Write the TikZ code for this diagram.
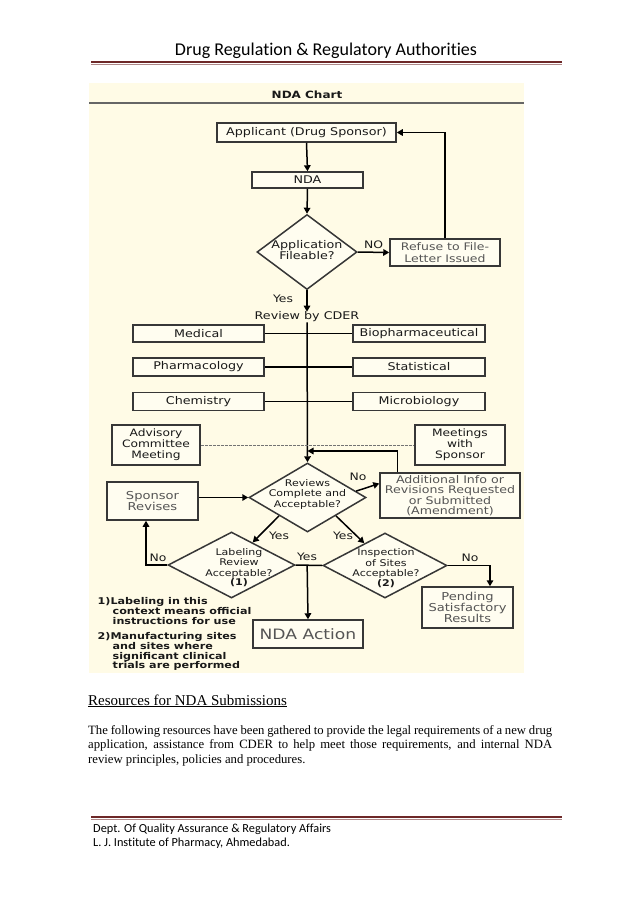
\documentclass[tikz,border=0pt]{standalone}
\usepackage{fontspec}
\setmainfont{DejaVu Sans}
\newfontfamily\chartf[FakeStretch=1.2]{DejaVu Sans}
\newfontfamily\calib[Ligatures=NoCommon]{Carlito}
\newfontfamily\timesf{Liberation Serif}
\usetikzlibrary{shapes.geometric,arrows.meta,calc}
\definecolor{cream}{RGB}{255,251,230}
\definecolor{boxfill}{RGB}{255,253,240}
\definecolor{maroon}{RGB}{110,40,40}
\definecolor{bordc}{RGB}{55,55,55}
\definecolor{txtc}{RGB}{25,25,25}
\definecolor{gtxt}{RGB}{85,85,85}
\tikzset{
  box/.style={draw=bordc, line width=1.5pt, fill=boxfill, inner sep=0pt, align=center, text=txtc, font=\chartf\fontsize{10.6}{11.5}\selectfont},
  gbox/.style={box, text=gtxt, font=\chartf\fontsize{10.9}{11.5}\selectfont},
  dia/.style={diamond, draw=bordc, line width=1.5pt, fill=boxfill, inner sep=0pt},
  dtxt/.style={inner sep=0pt, align=center, text=txtc, font=\chartf\fontsize{9.2}{10.5}\selectfont},
  conn/.style={line width=1.5pt, draw=black},
  arr/.style={conn, -{Triangle[length=6pt,width=6.5pt]}},
  lbl/.style={inner sep=0pt, text=txtc, font=\chartf\fontsize{10.3}{11}\selectfont},
  fnote/.style={inner sep=0pt, anchor=north west, align=left, text=txtc, font=\chartf\bfseries\fontsize{9.3}{9.7}\selectfont},
}
\begin{document}
\begin{tikzpicture}[x=1pt,y=-1pt]
\useasboundingbox (0,0) rectangle (638,903);
\fill[white] (0,0) rectangle (638,903);
% page header
\node[inner sep=0pt, anchor=base, font=\calib\fontsize{18}{20}\selectfont] (hdr) at (326,55.5) {Drug Regulation \& Regulatory Authorities};
\draw[maroon, line width=2.6pt] (91,62) -- (562,62);
\draw[maroon!55, line width=0.8pt] (91,64.8) -- (562,64.8);
% chart background
\fill[cream] (89,83) rectangle (524,673);
\node[inner sep=0pt, text=txtc, font=\chartf\bfseries\fontsize{10}{12}\selectfont] (title) at (307,95) {NDA Chart};
\draw[black!60, line width=1.2pt] (89,103) -- (524,103);

% boxes
\node[box, minimum width=179pt, minimum height=19pt] (app) at (306.5,132.5) {Applicant (Drug Sponsor)};
\node[box, minimum width=111pt, minimum height=16pt] (nda) at (307.5,180) {NDA};
\node[dia, minimum width=100pt, minimum height=75pt, label={[dtxt, font=\chartf\fontsize{10.6}{11}\selectfont, yshift=1.5pt]center:Application\\Fileable?}] (fil) at (307,252) {};
\node[gbox, minimum width=110pt, minimum height=27pt, font=\chartf\fontsize{10.4}{11.5}\selectfont] (ref) at (445,252.5) {Refuse to File-\\Letter Issued};
\node[lbl, font=\chartf\fontsize{10.6}{11}\selectfont] (cder) at (307,317) {Review by CDER};

\node[box, minimum width=131pt, minimum height=17pt] (med) at (198.5,333.5) {Medical};
\node[box, minimum width=132pt, minimum height=17pt] (bio) at (419,333.5) {Biopharmaceutical};
\node[box, minimum width=131pt, minimum height=18pt] (pha) at (198.5,367) {Pharmacology};
\node[box, minimum width=132pt, minimum height=18pt] (sta) at (419,367) {Statistical};
\node[box, minimum width=131pt, minimum height=18pt] (che) at (198.5,401.5) {Chemistry};
\node[box, minimum width=132pt, minimum height=18pt] (mic) at (419,401.5) {Microbiology};

\node[box, minimum width=88pt, minimum height=40pt, font=\chartf\fontsize{10.2}{11}\selectfont] (adv) at (156,445) {Advisory\\Committee\\Meeting};
\node[box, minimum width=90pt, minimum height=40pt, font=\chartf\fontsize{10.2}{11}\selectfont] (meet) at (460,445) {Meetings\\with\\Sponsor};

\node[dia, minimum width=117pt, minimum height=69pt, label={[dtxt, yshift=3.5pt]center:Reviews\\Complete and\\Acceptable?}] (rev) at (307.5,497.5) {};
\node[gbox, minimum width=91pt, minimum height=38pt] (spon) at (152.5,501) {Sponsor\\Revises};
\node[gbox, minimum width=140pt, minimum height=45pt, font=\chartf\fontsize{10.5}{9.8}\selectfont] (add) at (450,495.5) {Additional Info or\\Revisions Requested\\or Submitted\\(Amendment)};

\node[dia, minimum width=127pt, minimum height=66pt, label={[dtxt, xshift=7.5pt, yshift=-2.5pt]center:Labeling\\Review\\Acceptable?\\[-1pt]\textbf{(1)}}] (lab) at (231.5,565) {};
\node[dia, minimum width=124pt, minimum height=65pt, label={[dtxt, xshift=1pt, yshift=-2.5pt]center:Inspection\\of Sites\\Acceptable?\\[-1pt]\textbf{(2)}}] (ins) at (385,565.5) {};

\node[gbox, minimum width=110pt, minimum height=28pt, font=\chartf\fontsize{14.3}{16}\selectfont] (act) at (308,634) {NDA Action};
\node[gbox, minimum width=91pt, minimum height=41pt, font=\chartf\fontsize{10.9}{11.3}\selectfont] (pend) at (467.5,607.5) {Pending\\Satisfactory\\Results};

% footnotes
\node[fnote] (fn1) at (97.5,597.5) {1)Labeling in this\\\hspace*{15pt}context means official\\\hspace*{15pt}instructions for use};
\node[fnote] (fn2) at (97.5,632.5) {2)Manufacturing sites\\\hspace*{15pt}and sites where\\\hspace*{15pt}significant clinical\\\hspace*{15pt}trials are performed};

% connectors
\draw[arr] (app.south) -- (nda.north);
\draw[arr] (nda.south) -- (fil.north);
\draw[arr] (fil.east) -- (ref.west) node[lbl, midway, above=3pt] {NO};
\draw[arr] (ref.north) |- (app.east);
\draw[arr] (fil.south) -- (cder.north);
\node[lbl] (yes1) at (283,299) {Yes};
\draw[arr] (cder.south) -- (rev.north);
\draw[conn] (med.east) -- (bio.west);
\draw[conn] (pha.east) -- (sta.west);
\draw[conn] (che.east) -- (mic.west);
\draw[black!55, line width=0.9pt, dash pattern=on 3pt off 1pt] (adv.east) -- (meet.west);
\draw[arr] (spon.east |- rev.west) -- (rev.west);
\draw[arr] ($(rev.east)!0.18!(rev.north)$) -- ($(add.west)+(0,-12)$);
\node[lbl] (no1) at (358,477) {No};
\coordinate (fb) at (307.5,451);
\draw[arr] ($(add.north west)+(18,0)$) |- (fb);
\draw[arr] ($(rev.west)!0.52!(rev.south)$) -- ($(lab.north)!0.33!(lab.east)$);
\node[lbl] (yes2) at (279,536) {Yes};
\draw[arr] ($(rev.south)!0.48!(rev.east)$) -- ($(ins.north)!0.33!(ins.west)$);
\node[lbl] (yes3) at (343,536) {Yes};
\draw[conn] (lab.east) -- (ins.west);
\coordinate (mid) at ($(lab.east)!0.43!(ins.west)$);
\draw[arr] (mid) -- (act.north);
\node[lbl] (yes4) at (307,557) {Yes};
\draw[arr] (lab.west) -| ($(spon.south)+(-6.5,0)$);
\node[lbl] (no2) at (158,558) {No};
\draw[arr] (ins.east) -| ($(pend.north)+(22.5,0)$);
\node[lbl] (no3) at (470,558) {No};

% text below chart
\node[inner sep=0pt, anchor=base west, font=\timesf\fontsize{15}{16}\selectfont] (res) at (88,705) {\underline{Resources for NDA Submissions}};
\node[inner sep=0pt, anchor=north west, text width=464pt, align=justify, font=\timesf\fontsize{12.7}{14.2}\selectfont] (para) at (88,725.5) {The following resources have been gathered to provide the legal requirements of a new drug\linebreak application, assistance from CDER to help meet those requirements, and internal NDA\linebreak review principles, policies and procedures.};

% page footer
\draw[maroon, line width=2.6pt] (91,817) -- (562,817);
\draw[maroon!55, line width=0.8pt] (91,819.8) -- (562,819.8);
\node[inner sep=0pt, anchor=base west, font=\calib\fontsize{12.3}{14}\selectfont] (ft1) at (93,832.5) {Dept. Of Quality Assurance \& Regulatory Affairs};
\node[inner sep=0pt, anchor=base west, font=\calib\fontsize{12.3}{14}\selectfont] (ft2) at (93,846.5) {L. J. Institute of Pharmacy, Ahmedabad.};
\end{tikzpicture}
\end{document}
